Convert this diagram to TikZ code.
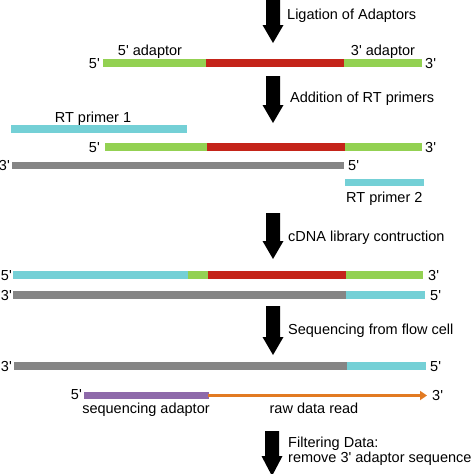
\documentclass[tikz,border=0pt]{standalone}
\usepackage{fontspec}
\setmainfont{Liberation Sans}[Ligatures=TeXOff]
\usetikzlibrary{arrows.meta}
\definecolor{sgreen}{HTML}{93D152}
\definecolor{sred}{HTML}{C42419}
\definecolor{scyan}{HTML}{74D0D6}
\definecolor{sgray}{HTML}{858585}
\definecolor{spurple}{HTML}{8E6AAA}
\definecolor{sorange}{HTML}{E27A22}
\newcommand{\strand}[4]{\fill[#4] (#1,#3-3.8) rectangle (#2,#3+3.8);}
\newcommand{\bigdown}[4]{\fill[black] (#1-7,#2) -- (#1+7,#2) -- (#1+7,#3) -- (#1+10.5,#3) -- (#1,#4) -- (#1-10.5,#3) -- (#1-7,#3) -- cycle;}
\begin{document}
\begin{tikzpicture}[x=1pt,y=-1pt,
  lbl/.style={font=\fontsize{14.5}{15.5}\selectfont, inner sep=0pt},
  endl/.style={lbl, anchor=base west},
  endr/.style={lbl, anchor=base east},
  step lbl/.style={lbl, anchor=base west, align=left}]
\useasboundingbox (0,0) rectangle (474,474);
\fill[white] (0,0) rectangle (474,474);
% step 1
\bigdown{273}{-2}{25}{43}
\node[step lbl] (t1) at (287,19.5) {Ligation of Adaptors};
\node[lbl, anchor=base] (a5) at (150,55) {5' adaptor};
\node[lbl, anchor=base] (a3) at (383,55) {3' adaptor};
\strand{103}{206}{63}{sgreen}
\strand{206}{344}{63}{sred}
\strand{344}{422}{63}{sgreen}
\node[endr] (b1l) at (100,68) {5'};
\node[endl] (b1r) at (425,68) {3'};
% step 2
\bigdown{273}{76}{105}{123}
\node[step lbl] (t2) at (290,102) {Addition of RT primers};
\node[lbl, anchor=base] (rt1) at (93,122) {RT primer 1};
\strand{11}{187}{129}{scyan}
\strand{105}{207}{147}{sgreen}
\strand{207}{345}{147}{sred}
\strand{345}{422}{147}{sgreen}
\node[endr] (b2l) at (100,152) {5'};
\node[endl] (b2r) at (425,152) {3'};
\strand{12}{344}{165.5}{sgray}
\node[endr] (g1l) at (10,170) {3'};
\node[endl] (g1r) at (348,170) {5'};
\strand{345}{424}{182.5}{scyan}
\node[lbl, anchor=base west] (rt2) at (346,202) {RT primer 2};
% step 3
\bigdown{273}{213}{241}{259}
\node[step lbl] (t3) at (288,241) {cDNA library contruction};
\strand{13}{188}{275}{scyan}
\strand{188}{208}{275}{sgreen}
\strand{208}{346}{275}{sred}
\strand{346}{423}{275}{sgreen}
\node[endr] (c1l) at (12,280) {5'};
\node[endl] (c1r) at (428,280) {3'};
\strand{13}{346}{295}{sgray}
\strand{346}{425}{295}{scyan}
\node[endr] (c2l) at (12,300) {3'};
\node[endl] (c2r) at (430,300) {5'};
% step 4
\bigdown{273}{306}{337}{355}
\node[step lbl] (t4) at (288,334) {Sequencing from flow cell};
\strand{14}{347}{366}{sgray}
\strand{347}{426}{366}{scyan}
\node[endr] (d1l) at (12,371) {3'};
\node[endl] (d1r) at (430,371) {5'};
\strand{84}{209}{395.5}{spurple}
\coordinate (oa) at (208,395.5);
\coordinate (ob) at (427,395.5);
\draw[sorange, line width=3.5pt, -{Triangle[length=7pt,width=9pt]}] (oa) -- (ob);
\node[endr] (d2l) at (82,399) {5'};
\node[endl] (d2r) at (432,400) {3'};
\node[lbl, anchor=base] (sa) at (146,413) {sequencing adaptor};
\node[lbl, anchor=base] (rd) at (314,413) {raw data read};
% step 5
\bigdown{272}{431}{456}{476}
\node[step lbl] (t5a) at (288,447) {Filtering Data:};
\node[step lbl] (t5b) at (288,462.5) {remove 3' adaptor sequence};
\end{tikzpicture}
\end{document}
